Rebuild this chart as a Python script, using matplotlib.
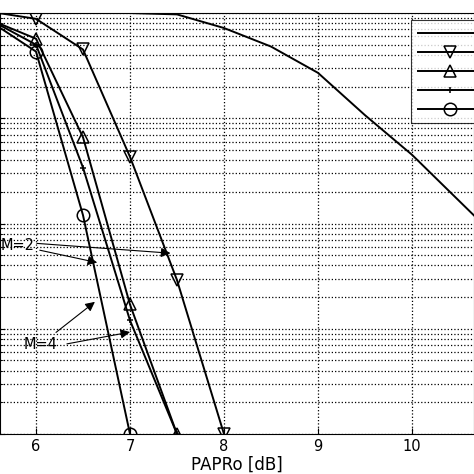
import matplotlib
matplotlib.use("Agg")
import matplotlib.pyplot as plt

orig_x = [5.6, 7.0, 7.5, 8.0, 8.5, 9.0, 9.5, 10.0, 10.7]
orig_y = [1.0, 0.999, 0.97, 0.72, 0.48, 0.27, 0.107, 0.045, 0.011]
dn_x = [5.6, 6.0, 6.5, 7.0, 7.5, 8.0]
dn_y = [1.0, 0.88, 0.45, 0.043, 0.0029, 1e-4]
up_x = [5.6, 6.0, 6.5, 7.0, 7.5]
up_y = [0.8, 0.57, 0.066, 0.0017, 1e-4]
pl_x = [5.6, 6.0, 6.5, 7.0, 7.5]
pl_y = [0.78, 0.5, 0.034, 0.0012, 1e-4]
ci_x = [5.6, 6.0, 6.5, 7.0]
ci_y = [0.74, 0.43, 0.012, 1e-4]

fig = plt.figure(figsize=(4.74, 4.74), dpi=100)
ax = fig.add_axes([0.0, 40/474, 1.0, 421/474])
kw = dict(color="black", lw=1.4, markerfacecolor="none", markeredgecolor="black", markersize=9, markeredgewidth=1.1)
h = []
h += ax.plot(orig_x, orig_y, **kw)
h += ax.plot(dn_x, dn_y, marker="v", markevery=list(range(1, len(dn_x))), **kw)
h += ax.plot(up_x, up_y, marker="^", markevery=list(range(1, len(up_x))), **kw)
h += ax.plot(pl_x, pl_y, marker="+", markersize=5, markevery=list(range(1, len(pl_x))),
             **{k: v for k, v in kw.items() if k != "markersize"})
h += ax.plot(ci_x, ci_y, marker="o", markevery=list(range(1, len(ci_x))), **kw)

ax.set_yscale("log")
ax.set_ylim(1e-4, 1)
ax.set_xlim(5.617, 10.66)
ax.set_xticks([6, 7, 8, 9, 10])
ax.tick_params(axis="x", labelsize=10.5, direction="in", length=4)
ax.tick_params(axis="y", labelleft=False, which="both", direction="in")
ax.grid(True, which="major", axis="both", color="black", linestyle=":", lw=0.9)
ax.grid(True, which="minor", axis="y", color="black", linestyle=":", lw=0.9)
ax.set_xlabel("PAPRo [dB]", fontsize=12, labelpad=1)

arrow = dict(arrowstyle="-|>", color="black", lw=0.8, mutation_scale=14)
ax.annotate("M=2", xy=(6.68, 0.0042), xytext=(5.62, 0.0062), fontsize=10.5, va="center", ha="left", arrowprops=arrow)
ax.annotate("", xy=(7.46, 0.0052), xytext=(5.98, 0.0065), arrowprops=arrow)
ax.annotate("M=4", xy=(6.65, 0.00187), xytext=(5.87, 7.1e-4), fontsize=10.5, va="center", ha="left", arrowprops=arrow)
ax.annotate("", xy=(7.03, 9.4e-4), xytext=(6.3, 7.1e-4), arrowprops=arrow)

leg = ax.legend(h, [""] * 5, loc="upper left", bbox_to_anchor=(411/474, 1 - 7/421), handlelength=4.6,
                fontsize=10, frameon=True, fancybox=False, edgecolor="black", borderaxespad=0,
                labelspacing=0.35, borderpad=0.5)
leg.get_frame().set_linewidth(0.8)
fig.savefig("out.png", dpi=100)
